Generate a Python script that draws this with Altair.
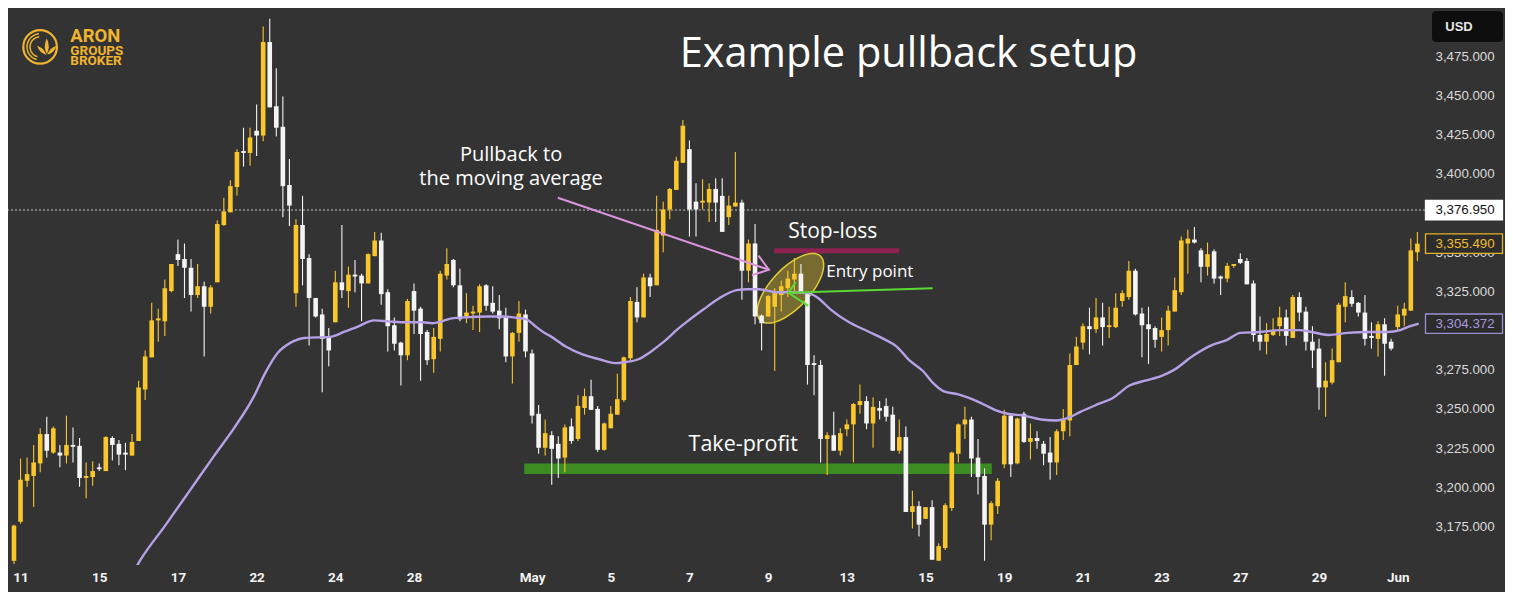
import altair as alt
import pandas as pd
import numpy as np

# ---------------- data (4H candles) ----------------
opens = [
3153.0, 3178.0, 3204.1, 3207.2, 3215.2, 3233.9, 3222.1, 3222.1, 3220.2, 3227.0,
3226.4, 3205.9, 3206.5, 3212.7, 3210.3, 3231.4, 3227.7, 3222.1, 3220.2, 3229.5,
3262.4, 3282.9, 3306.5, 3305.9, 3325.2, 3348.8, 3345.7, 3340.1, 3322.7, 3328.3,
3315.2, 3330.8, 3367.4, 3375.5, 3391.6, 3414.6, 3413.4, 3427.6, 3424.5, 3484.2,
3443.2, 3430.1, 3392.9, 3323.9, 3367.4, 3346.3, 3320.8, 3310.3, 3295.3, 3305.3,
3330.8, 3325.2, 3335.7, 3335.1, 3330.1, 3347.5, 3357.5, 3324.5, 3303.4, 3292.3,
3284.2, 3325.2, 3314.0, 3299.1, 3281.7, 3294.7, 3335.1, 3345.1, 3328.9, 3309.0,
3310.9, 3311.5, 3328.9, 3317.7, 3312.7, 3309.0, 3283.5, 3298.5, 3310.3, 3285.4,
3246.9, 3225.2, 3233.2, 3227.7, 3218.9, 3238.8, 3230.8, 3250.6, 3258.1, 3250.0,
3223.9, 3237.6, 3246.3, 3255.6, 3282.3, 3318.3, 3308.4, 3333.9, 3328.9, 3360.6,
3377.3, 3389.8, 3407.1, 3415.8, 3382.3, 3381.7, 3381.7, 3390.4, 3386.0, 3372.4,
3379.2, 3381.7, 3338.2, 3355.6, 3309.6, 3309.0, 3315.2, 3322.7, 3327.0, 3332.6,
3336.3, 3323.9, 3279.2, 3278.0, 3230.8, 3233.2, 3223.3, 3237.0, 3240.1, 3252.5,
3255.0, 3240.7, 3250.6, 3251.9, 3246.3, 3223.3, 3232.0, 3184.2, 3187.9, 3179.8,
3187.3, 3153.1, 3161.2, 3186.7, 3221.4, 3240.1, 3243.2, 3218.9, 3207.2, 3176.1,
3187.9, 3214.6, 3245.7, 3215.2, 3246.9, 3228.9, 3231.4, 3227.7, 3222.1, 3215.8,
3235.7, 3242.6, 3278.0, 3292.3, 3302.8, 3300.9, 3308.4, 3302.2, 3302.2, 3318.9,
3321.4, 3338.2, 3310.9, 3304.0, 3301.6, 3296.0, 3300.3, 3312.1, 3324.5, 3355.6,
3358.1, 3351.2, 3340.7, 3350.6, 3334.5, 3333.2, 3341.3, 3345.7, 3344.4, 3330.1,
3297.2, 3292.9, 3297.2, 3302.8, 3308.4, 3295.3, 3321.4, 3312.1, 3292.9, 3288.5,
3263.7, 3266.8, 3279.8, 3315.2, 3321.4, 3317.7, 3311.5, 3296.6, 3294.7, 3304.0,
3292.9, 3302.2, 3309.6, 3312.7, 3350.0]

highs = [
3176.0, 3218.3, 3218.9, 3227.0, 3237.6, 3245.0, 3238.8, 3227.0, 3245.7, 3238.2,
3231.4, 3215.8, 3216.5, 3215.2, 3232.6, 3232.6, 3230.1, 3228.3, 3233.9, 3268.0,
3287.3, 3317.7, 3314.0, 3332.6, 3342.5, 3358.1, 3355.6, 3345.7, 3342.5, 3331.4,
3328.9, 3370.5, 3384.8, 3396.0, 3415.8, 3429.5, 3429.5, 3444.4, 3494.1, 3499.1,
3467.4, 3449.4, 3409.6, 3371.1, 3386.0, 3348.8, 3320.8, 3314.0, 3301.6, 3338.2,
3367.4, 3340.7, 3345.1, 3336.3, 3349.4, 3363.0, 3362.4, 3326.4, 3308.4, 3292.9,
3320.2, 3330.1, 3315.2, 3300.3, 3301.6, 3338.2, 3352.5, 3345.7, 3339.4, 3323.9,
3315.8, 3329.5, 3329.5, 3328.3, 3322.7, 3314.6, 3299.1, 3318.9, 3313.4, 3287.9,
3252.5, 3243.2, 3235.7, 3232.6, 3240.1, 3243.8, 3258.7, 3263.0, 3268.6, 3251.9,
3241.3, 3251.9, 3272.4, 3283.5, 3321.4, 3327.6, 3336.3, 3336.3, 3386.0, 3382.3,
3391.0, 3410.9, 3434.5, 3421.4, 3394.1, 3396.6, 3394.1, 3397.2, 3397.2, 3386.0,
3414.0, 3383.5, 3358.1, 3368.0, 3310.3, 3322.7, 3327.0, 3332.0, 3338.2, 3346.3,
3342.5, 3324.5, 3284.2, 3281.1, 3235.1, 3248.1, 3237.6, 3243.2, 3253.7, 3265.5,
3258.1, 3257.5, 3255.0, 3256.8, 3251.3, 3243.2, 3238.8, 3197.8, 3191.0, 3187.3,
3191.6, 3164.3, 3189.8, 3222.7, 3240.7, 3251.3, 3245.0, 3230.8, 3212.1, 3191.0,
3205.9, 3249.4, 3246.9, 3244.4, 3248.1, 3240.7, 3235.7, 3229.5, 3232.0, 3237.0,
3250.0, 3285.4, 3296.0, 3304.7, 3314.6, 3320.8, 3317.7, 3315.2, 3323.9, 3325.8,
3344.4, 3339.4, 3314.6, 3315.2, 3302.8, 3308.4, 3315.8, 3333.9, 3360.0, 3364.3,
3366.1, 3352.5, 3356.2, 3351.9, 3335.1, 3343.2, 3342.5, 3349.4, 3346.3, 3332.0,
3309.0, 3304.7, 3307.8, 3315.2, 3313.4, 3322.7, 3324.5, 3315.2, 3302.8, 3294.7,
3279.8, 3288.5, 3317.7, 3330.8, 3325.8, 3318.3, 3322.7, 3305.3, 3305.9, 3307.8,
3294.7, 3315.8, 3317.7, 3358.7, 3363.0]

lows = [
3151.0, 3176.7, 3200.3, 3187.3, 3209.6, 3218.9, 3221.4, 3212.7, 3215.2, 3215.8,
3200.3, 3192.9, 3200.9, 3210.3, 3210.3, 3217.1, 3214.0, 3210.9, 3220.2, 3229.5,
3255.6, 3282.9, 3292.9, 3296.6, 3324.5, 3341.3, 3320.8, 3312.1, 3320.8, 3283.5,
3310.9, 3330.8, 3366.8, 3375.5, 3386.0, 3404.7, 3405.3, 3411.5, 3420.8, 3442.5,
3423.9, 3372.4, 3366.8, 3315.2, 3328.9, 3290.4, 3308.4, 3260.6, 3277.3, 3305.3,
3320.8, 3314.6, 3324.5, 3305.9, 3330.1, 3347.5, 3316.5, 3286.7, 3287.3, 3264.9,
3281.1, 3297.8, 3268.0, 3278.0, 3273.0, 3286.7, 3332.6, 3327.6, 3305.9, 3304.7,
3300.3, 3299.1, 3312.7, 3310.9, 3300.9, 3279.8, 3266.2, 3292.9, 3282.9, 3240.7,
3221.4, 3220.2, 3201.6, 3205.9, 3209.6, 3227.7, 3229.5, 3246.3, 3249.4, 3222.7,
3223.3, 3237.6, 3246.3, 3254.4, 3281.1, 3305.3, 3308.4, 3321.4, 3328.9, 3350.0,
3371.1, 3389.8, 3407.1, 3360.0, 3360.0, 3377.3, 3369.3, 3369.3, 3363.0, 3367.4,
3379.2, 3319.6, 3330.8, 3304.0, 3287.3, 3309.0, 3274.2, 3312.1, 3321.4, 3323.3,
3323.9, 3265.5, 3258.7, 3215.8, 3207.8, 3223.3, 3220.2, 3232.6, 3215.8, 3246.9,
3237.0, 3225.2, 3243.2, 3241.9, 3223.3, 3221.4, 3184.2, 3173.6, 3168.6, 3179.8,
3153.7, 3153.1, 3159.9, 3184.8, 3215.8, 3230.8, 3206.5, 3195.4, 3153.1, 3166.2,
3182.9, 3212.1, 3206.5, 3214.6, 3228.3, 3217.7, 3224.5, 3214.0, 3204.7, 3207.8,
3230.1, 3232.6, 3278.0, 3287.9, 3284.8, 3298.5, 3290.4, 3295.3, 3301.6, 3315.2,
3319.6, 3309.6, 3282.9, 3278.6, 3289.1, 3286.7, 3290.4, 3312.1, 3322.7, 3336.3,
3355.6, 3330.8, 3335.1, 3330.1, 3322.7, 3330.8, 3340.1, 3342.5, 3329.5, 3292.9,
3287.3, 3284.8, 3296.6, 3296.6, 3290.4, 3295.3, 3305.9, 3287.3, 3276.1, 3249.4,
3245.0, 3265.5, 3279.8, 3305.3, 3315.2, 3309.0, 3290.4, 3288.5, 3283.5, 3271.1,
3287.3, 3299.7, 3302.8, 3312.7, 3344.4]

closes = [
3175.5, 3204.7, 3208.4, 3215.8, 3233.9, 3223.3, 3237.6, 3220.2, 3227.0, 3225.8,
3205.9, 3207.2, 3210.3, 3211.5, 3232.0, 3227.0, 3220.8, 3220.8, 3228.9, 3263.7,
3283.5, 3306.5, 3307.8, 3327.0, 3342.5, 3345.1, 3340.1, 3322.7, 3328.3, 3315.2,
3327.6, 3368.0, 3376.1, 3392.2, 3414.0, 3413.4, 3423.3, 3424.5, 3484.2, 3442.5,
3429.5, 3392.2, 3379.8, 3367.4, 3345.7, 3320.8, 3309.0, 3294.7, 3287.3, 3330.8,
3325.8, 3335.7, 3334.5, 3330.1, 3348.8, 3357.5, 3323.3, 3302.8, 3291.6, 3284.2,
3318.9, 3312.7, 3297.8, 3281.1, 3296.0, 3336.3, 3342.5, 3328.9, 3307.2, 3311.5,
3312.1, 3328.3, 3315.8, 3312.1, 3307.8, 3283.5, 3298.5, 3310.9, 3286.7, 3245.7,
3225.2, 3234.5, 3224.5, 3218.3, 3238.2, 3229.5, 3251.9, 3258.1, 3249.4, 3223.9,
3240.7, 3246.9, 3256.2, 3282.9, 3318.9, 3308.4, 3333.9, 3328.3, 3364.3, 3377.3,
3390.4, 3408.4, 3430.8, 3377.3, 3377.3, 3382.9, 3390.4, 3381.7, 3363.0, 3379.8,
3381.7, 3338.2, 3355.6, 3309.0, 3304.7, 3322.0, 3323.9, 3328.3, 3333.2, 3336.3,
3323.9, 3278.0, 3278.0, 3230.8, 3233.2, 3223.3, 3234.5, 3240.1, 3253.1, 3255.0,
3240.7, 3251.3, 3248.8, 3245.0, 3223.3, 3232.0, 3184.2, 3187.9, 3176.1, 3187.3,
3153.7, 3162.4, 3188.5, 3222.1, 3240.1, 3243.2, 3218.3, 3206.5, 3176.1, 3189.8,
3204.1, 3245.7, 3214.6, 3243.8, 3228.9, 3231.4, 3229.5, 3221.4, 3215.8, 3235.7,
3243.2, 3278.0, 3289.8, 3302.8, 3300.9, 3308.4, 3302.2, 3303.4, 3314.6, 3323.9,
3338.2, 3310.3, 3303.4, 3300.9, 3294.1, 3300.3, 3312.7, 3325.8, 3357.5, 3358.7,
3356.2, 3340.7, 3348.8, 3333.2, 3333.2, 3341.3, 3342.5, 3343.2, 3329.5, 3297.2,
3292.9, 3297.8, 3299.7, 3308.4, 3296.6, 3321.4, 3311.5, 3292.9, 3287.3, 3263.7,
3268.0, 3281.1, 3316.5, 3322.0, 3317.1, 3311.5, 3294.7, 3295.3, 3304.0, 3291.6,
3288.5, 3310.3, 3314.0, 3351.2, 3355.5]

# moving average (read at sample points: candle index, price)
ma_index = [19.7, 20.31, 24.05, 27.8, 31.54, 34.53, 37.53, 39.32, 41.27, 43.2,
            45.3, 49.2, 51.3, 53.25, 55.94, 58.19, 60.73, 63.28, 64.77, 66.27,
            67.77, 69.71, 73.16, 75.7, 77.2, 79.14, 80.49, 81.69, 82.74, 85.13,
            87.68, 90.22, 92.62, 94.11, 96.21, 98.16, 100.1, 102.2, 103.7, 106.1,
            108.6, 111.2, 112.7, 114.6, 117.2, 119.6, 122.1, 123.6, 125.55, 128.1,
            131.1, 133.6, 135.6, 137.5, 139.6, 141.1, 142.8, 145.0, 147.1, 149.05,
            150.55, 152.5, 155.04, 157.6, 160.0, 161.8, 163.6, 166.0, 168.5, 171.1,
            173.5, 176.0, 177.9, 180.9, 183.5, 186.0, 188.0, 191.0, 194.0, 197.0,
            198.9, 201.4, 204.4, 207.4, 210.4, 212.4, 213.9, 215.2]
ma_value = [3149.4, 3153.7, 3175.5, 3197.8, 3220.2, 3237.6, 3257.5, 3273.0, 3286.0, 3292.3,
            3295.3, 3296.0, 3299.1, 3302.2, 3306.5, 3305.9, 3305.3, 3305.3, 3304.7, 3305.9,
            3307.8, 3308.4, 3309.0, 3309.0, 3308.4, 3307.2, 3302.8, 3299.1, 3296.6, 3289.8,
            3284.8, 3281.7, 3279.2, 3279.8, 3281.7, 3286.7, 3292.9, 3300.9, 3305.9, 3313.4,
            3320.8, 3325.8, 3326.4, 3326.4, 3324.5, 3324.5, 3323.9, 3320.8, 3313.4, 3305.9,
            3299.7, 3294.7, 3289.8, 3281.1, 3274.2, 3266.8, 3261.2, 3259.3, 3256.2, 3252.5,
            3249.4, 3246.9, 3245.7, 3243.2, 3242.6, 3244.4, 3248.1, 3252.5, 3256.8, 3264.9,
            3268.0, 3271.1, 3274.9, 3284.2, 3290.4, 3294.1, 3298.5, 3299.1, 3300.3, 3300.3,
            3299.1, 3297.2, 3298.5, 3299.1, 3299.1, 3300.3, 3302.8, 3304.4]

date_index = [2, 14, 26, 38, 50, 62, 80, 92, 104, 116, 128, 140, 152, 164, 176, 188, 200, 212]
date_labels = ["11", "15", "17", "22", "24", "28", "May", "5", "7", "9", "13", "15",
               "19", "21", "23", "27", "29", "Jun"]
price_ticks = [3175, 3200, 3225, 3250, 3275, 3325, 3350, 3400, 3425, 3450, 3475]

last_price = 3376.95
close_price = 3355.49
ma_price = 3304.372

# annotations (candle index / price)
title_text = "Example pullback setup"
title_pos = (137.4, 3468.0)
pullback_text = ["Pullback to", "the moving average"]
pullback_pos = (76.8, 3408.4)
stop_text, stop_pos = "Stop-loss", (125.85, 3359.3)
take_text, take_pos = "Take-profit", (112.2, 3223.3)
entry_text, entry_pos = "Entry point", (131.5, 3334.5)
take_zone = (78.8, 150.1, 3208.4, 3215.2)
stop_zone = (116.9, 136.0, 3349.4, 3352.5)
pink_line_x = [83.93, 116.12]
pink_line_y = [3384.8, 3338.8]
pink_head_x = [113.53, 116.12, 114.53]
pink_head_y = [3335.4, 3338.8, 3347.9]
green_line_x = [141.1, 119.11]
green_line_y = [3327.0, 3324.1]
green_head_x = [120.2, 119.11, 122.1]
green_head_y = [3330.9, 3324.1, 3315.8]
ellipse_center = (119.4, 3327.0)

# ---------------- styling ----------------
BG = "#333333"
YEL = "#f9c62b"
WHT = "#f4f4f4"
MA_C = "#b7a1e6"
GOLD = "#f0b42e"
FONT = "Open Sans"

W, H = 1417, 557
xs = alt.Scale(domain=[0.85, 215.4], nice=False, zero=False)
ys = alt.Scale(domain=[3150.34, 3505.93], nice=False, zero=False)

label_expr = ("[" + ",".join(f"'{s}'" for s in date_labels) + "][indexof(["
              + ",".join(str(v) for v in date_index) + "], datum.value)]")
x_axis = alt.Axis(values=date_index, labelExpr=label_expr, labelFont="Liberation Sans Narrow, Roboto",
                  labelFontSize=13.5, labelFontWeight="bold", labelColor="#f2f2f2", labelPadding=5,
                  ticks=False, domain=False, grid=False, labelFlush=False, labelOverlap=False, title=None)
y_axis = alt.Axis(orient="right", values=price_ticks, format=",.3f", labelColor="#dadada",
                  labelFont="Liberation Sans", labelFontSize=13.3, labelPadding=10, labelAlign="left",
                  ticks=False, domain=False, grid=False, labelFlush=False, labelOverlap=False, title=None)


def xq(f):
    return alt.X(f"{f}:Q", scale=xs, axis=x_axis, title=None)


def yq(f):
    return alt.Y(f"{f}:Q", scale=ys, axis=y_axis, title=None)


candles = pd.DataFrame({"i": np.arange(1, len(opens) + 1), "open": opens,
                        "high": highs, "low": lows, "close": closes})
candles["dir"] = np.where(candles["close"] >= candles["open"], "up", "down")
dir_color = alt.Color("dir:N", scale=alt.Scale(domain=["up", "down"], range=[YEL, WHT]), legend=None)

base = alt.Chart(candles)
wicks = base.mark_rule(strokeWidth=1.1, clip=True).encode(
    x=xq("i"), y=yq("low"), y2="high:Q", color=dir_color)
bodies = base.mark_bar(width=4.6, clip=True).encode(
    x=xq("i"), y=yq("open"), y2="close:Q", color=dir_color)

ma_df = pd.DataFrame({"i": ma_index, "v": ma_value})
ma_line = alt.Chart(ma_df).mark_line(color=MA_C, strokeWidth=2.4, interpolate="monotone", clip=True).encode(
    x=xq("i"), y=yq("v"))


def zone_chart(z, color):
    df = pd.DataFrame({"x1": [z[0]], "x2": [z[1]], "y1": [z[2]], "y2": [z[3]]})
    return alt.Chart(df).mark_rect(color=color).encode(x=xq("x1"), x2="x2:Q", y=yq("y1"), y2="y2:Q")


take_rect = zone_chart(take_zone, "#3c8c22")
stop_rect = zone_chart(stop_zone, "#8e2251")

last_rule = alt.Chart(pd.DataFrame({"p": [last_price]})).mark_rule(
    strokeDash=[2, 2], color="#c4c4c4", strokeWidth=1).encode(y=yq("p"))


def ellipse_path(ratio, angle_deg, n=64):
    a = np.deg2rad(angle_deg)
    ux, uy = np.cos(a), -np.sin(a)
    vx, vy = np.sin(a), np.cos(a)
    t = np.linspace(0, 2 * np.pi, n, endpoint=False)
    px = ux * np.cos(t) + vx * ratio * np.sin(t)
    py = uy * np.cos(t) + vy * ratio * np.sin(t)
    return "M" + " L".join(f"{x:.4f},{y:.4f}" for x, y in zip(px, py)) + " Z"


ell_df = pd.DataFrame({"i": [ellipse_center[0]], "v": [ellipse_center[1]]})
ellipse = alt.Chart(ell_df).mark_point(
    shape=ellipse_path(0.444, 47), size=7744, filled=True, fill="#e8c930", fillOpacity=0.38,
    stroke="#e3cc35", strokeWidth=1.5, strokeOpacity=1, opacity=1).encode(x=xq("i"), y=yq("v"))


def arrow_df(lx, ly, hx, hy):
    rows = [("line", k, x, y) for k, (x, y) in enumerate(zip(lx, ly))]
    rows += [("head", k, x, y) for k, (x, y) in enumerate(zip(hx, hy))]
    return pd.DataFrame(rows, columns=["seg", "ord", "i", "v"])


pink = alt.Chart(arrow_df(pink_line_x, pink_line_y, pink_head_x, pink_head_y)).mark_line(
    color="#dc94dc", strokeWidth=2).encode(x=xq("i"), y=yq("v"), detail="seg:N", order="ord:Q")
green = alt.Chart(arrow_df(green_line_x, green_line_y, green_head_x, green_head_y)).mark_line(
    color="#5ad932", strokeWidth=2).encode(x=xq("i"), y=yq("v"), detail="seg:N", order="ord:Q")


def text_chart(txt, pos, size, line_height=None):
    df = pd.DataFrame({"i": [pos[0]], "v": [pos[1]], "t": [txt]})
    kw = dict(font=FONT, fontSize=size, color="#ffffff", align="center", baseline="alphabetic")
    if line_height is not None:
        kw["lineHeight"] = line_height
    return alt.Chart(df).mark_text(**kw).encode(x=xq("i"), y=yq("v"), text="t")


title = text_chart(title_text, title_pos, 41.5)
pullback = text_chart(pullback_text, pullback_pos, 20, line_height=24)
stop_lbl = text_chart(stop_text, stop_pos, 21)
take_lbl = text_chart(take_text, take_pos, 21.5)
entry_lbl = text_chart(entry_text, entry_pos, 17)


# price tags on the right axis
def tag_chart(price, fill, stroke, txt_color):
    df = pd.DataFrame({"p": [price], "top": [price + 6.2], "bot": [price - 6.2],
                       "label": [f"{price:,.3f}"]})
    box = alt.Chart(df).mark_rect(fill=fill, stroke=stroke, strokeWidth=1.3).encode(
        x=alt.value(1417.5), x2=alt.value(1494.5), y=yq("top"), y2="bot:Q")
    txt = alt.Chart(df).mark_text(font="Liberation Sans", fontSize=13.3, align="center",
                                  baseline="middle", color=txt_color).encode(
        x=alt.value(1457), y=yq("p"), text="label:N")
    return [box, txt]


tags = (tag_chart(last_price, "#ffffff", "#ffffff", "#111111")
        + tag_chart(close_price, "#2c2c2c", "#e2b227", "#f0bb2a")
        + tag_chart(ma_price, "#2c2c2c", "#9c8fd2", "#a797de"))

one = pd.DataFrame({"a": [0]})
usd_box = alt.Chart(one).mark_rect(cornerRadius=4, color="#0e0e0e").encode(
    x=alt.value(1424), x2=alt.value(1495), y=alt.value(3), y2=alt.value(34))
usd_text = alt.Chart(one).mark_text(font="Liberation Sans", fontSize=13, fontWeight="bold", color="#e8e8e8",
                                    align="center", baseline="middle", text="USD").encode(
    x=alt.value(1451), y=alt.value(18.5))

# logo
leaf_path = ("M0,0.55 Q0.35,-0.1 0,-0.85 Q-0.35,-0.1 0,0.55 Z "
             "M-0.05,0.6 Q-0.24,-0.01 -0.85,-0.2 Q-0.66,0.41 -0.05,0.6 Z "
             "M0.05,0.6 Q0.24,-0.01 0.85,-0.2 Q0.66,0.41 0.05,0.6 Z")


def arc_path(radii, a0, a1, n=24):
    parts = []
    for r in radii:
        t = np.deg2rad(np.linspace(a0, a1, n))
        parts.append("M" + " L".join(f"{r*np.cos(a):.4f},{r*np.sin(a):.4f}" for a in t))
    return " ".join(parts)


ring = alt.Chart(one).mark_point(shape="circle", size=1129, filled=False, stroke=GOLD, strokeWidth=2.2,
                                 opacity=1).encode(x=alt.value(32.1), y=alt.value(38.9))
swirl = alt.Chart(one).mark_point(shape=arc_path([0.78, 0.6], 105, 265), size=1129, filled=False,
                                  stroke=GOLD, strokeWidth=1.5, fillOpacity=0, opacity=1).encode(
    x=alt.value(32.1), y=alt.value(38.9))
leaves = alt.Chart(one).mark_point(shape=leaf_path, size=520, filled=True, fill=GOLD, strokeWidth=0,
                                   opacity=1).encode(x=alt.value(38.8), y=alt.value(40.0))
logo_big = alt.Chart(one).mark_text(font="Roboto", fontWeight="bold", fontSize=18.5, color=GOLD,
                                    align="left", baseline="alphabetic", text="ARON").encode(
    x=alt.value(62.3), y=alt.value(33.5))
logo_small = alt.Chart(one).mark_text(font="Roboto", fontWeight="bold", fontSize=13.5, color=GOLD,
                                      align="left", baseline="alphabetic", lineHeight=10.8,
                                      text=["GROUPS", "BROKER"]).encode(
    x=alt.value(62.3), y=alt.value(46.6))

chart = alt.layer(
    take_rect, stop_rect, last_rule, ellipse, wicks, bodies, ma_line, pink, green,
    title, pullback, stop_lbl, take_lbl, entry_lbl, *tags, usd_box, usd_text,
    ring, swirl, leaves, logo_big, logo_small
).properties(
    width=W, height=H, background=BG,
    autosize=alt.AutoSizeParams(type="none"),
    padding={"left": 0, "top": 0, "right": 80, "bottom": 27},
).configure_view(strokeWidth=0)

chart.save("out.html", embed_options={"renderer": "svg", "actions": False})
